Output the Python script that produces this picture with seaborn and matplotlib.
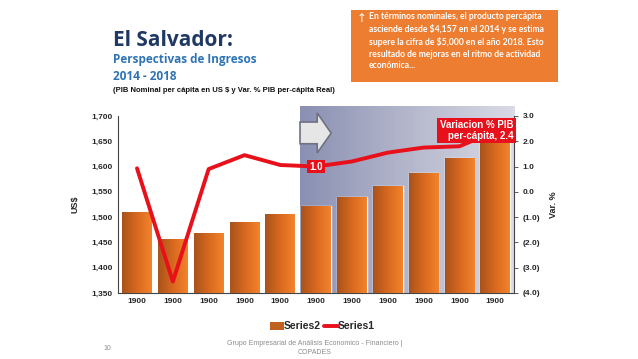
import numpy as np
import pandas as pd
import matplotlib
matplotlib.use("Agg")
import matplotlib.pyplot as plt
import seaborn as sns
from matplotlib.colors import LinearSegmentedColormap
from matplotlib.patches import Rectangle, Polygon

# Data
x_labels = ["1900"] * 11
pib_nominal = [1511, 1457, 1469, 1490, 1506, 1521, 1539, 1562, 1588, 1616, 1654]  # US$
var_pib = [0.93, -3.55, 0.9, 1.45, 1.06, 1.0, 1.2, 1.55, 1.75, 1.8, 2.4]  # Var. %
left_ticks = [1350, 1400, 1450, 1500, 1550, 1600, 1650, 1700]
right_ticks = [-4, -3, -2, -1, 0, 1, 2, 3]

df = pd.DataFrame({"pos": range(len(x_labels)), "pib": pib_nominal, "var": var_pib})

sns.set_theme(style="white")
plt.rcParams["font.family"] = ["Liberation Sans", "DejaVu Sans"]

fig = plt.figure(figsize=(6.38, 3.59), dpi=100)
ax = fig.add_axes([0.185, 0.184, 0.621, 0.493])
YMIN, YMAX = 1350, 1700
XMIN, XMAX = -0.53, 10.53

# bars
sns.barplot(data=df, x="pos", y="pib", color="#e87a2a", width=0.83, ax=ax, zorder=3)

# gradient fill on the bars (only the visible part above the axis floor)
bar_cmap = LinearSegmentedColormap.from_list("bar", ["#a9531c", "#d8691f", "#f3832c"])
grad = np.linspace(0, 1, 64).reshape(1, -1)
for p in ax.patches:
    x0, y0 = p.get_xy()
    top = y0 + p.get_height()
    im = ax.imshow(grad, cmap=bar_cmap, aspect="auto", zorder=3.5,
                   extent=[x0, x0 + p.get_width(), YMIN, top])
    im.set_clip_path(p)
    p.set_clip_on(True)

# shaded projection area
shade_cmap = LinearSegmentedColormap.from_list("shade", ["#8a90b2", "#b4b7cc", "#d9dae5"])
ax.imshow(grad, cmap=shade_cmap, aspect="auto", zorder=1, clip_on=False,
          extent=[4.55, XMAX, YMIN, 1718])

# arrow in the shaded area
arrow = Polygon([[4.55, 1688], [5.03, 1688], [5.03, 1706], [5.42, 1666],
                 [5.03, 1627], [5.03, 1645], [4.55, 1645]],
                closed=True, facecolor="#e6e6e6", edgecolor="#6f7283", lw=1.2,
                zorder=2, clip_on=False)
ax.add_patch(arrow)

ax.set_ylim(YMIN, YMAX)
ax.set_xlim(XMIN, XMAX)
ax.set_xticks(range(len(x_labels)))
ax.set_xticklabels(x_labels, fontsize=6, fontweight="bold")
ax.set_yticks(left_ticks)
ax.set_yticklabels([f"{v:,}" for v in left_ticks], fontsize=6, fontweight="bold")
ax.set_xlabel("")
ax.set_ylabel("US$", fontsize=6.5, fontweight="bold", labelpad=8)
for s in ["top", "right"]:
    ax.spines[s].set_visible(False)
for s in ["left", "bottom"]:
    ax.spines[s].set_color("#444444")
    ax.spines[s].set_linewidth(0.8)
ax.tick_params(axis="both", length=0, pad=4)

# line on secondary axis
ax2 = ax.twinx()
sns.lineplot(data=df, x="pos", y="var", color="#e8101a", linewidth=2.8, ax=ax2, zorder=5)
ax2.set_ylim(-4, 3)
ax2.set_xlim(XMIN, XMAX)
ax2.set_yticks(right_ticks)
ax2.set_yticklabels([f"{v:.1f}" if v >= 0 else f"({abs(v):.1f})" for v in right_ticks],
                    fontsize=6, fontweight="bold")
ax2.set_ylabel("Var. %", fontsize=6.5, fontweight="bold", rotation=90, labelpad=6)
ax2.yaxis.set_label_position("right")
for s in ["top", "left", "bottom"]:
    ax2.spines[s].set_visible(False)
ax2.spines["right"].set_color("#444444")
ax2.spines["right"].set_linewidth(0.8)
ax2.tick_params(axis="y", length=3, width=0.6, color="#444444", pad=3)
ax2.grid(False)
ax.grid(False)

# data labels
ax2.text(5, var_pib[5], f"{var_pib[5]:.1f}", color="white", fontsize=7, fontweight="bold",
         ha="center", va="center", zorder=6,
         bbox=dict(boxstyle="square,pad=0.2", fc="#e8101a", ec="none"))
ax2.text(10.5, 2.42, "Variacion % PIB\nper-cápita, 2.4", color="white", fontsize=7,
         fontweight="bold", ha="right", va="center", zorder=6, linespacing=1.1,
         bbox=dict(boxstyle="square,pad=0.25", fc="#e8101a", ec="none"))

# titles
fig.text(113 / 638, 1 - 40 / 359, "El Salvador:", fontsize=15, fontweight="bold",
         color="#1f3864", family=["Open Sans", "DejaVu Sans"], va="center")
fig.text(113 / 638, 1 - 60 / 359, "Perspectivas de Ingresos", fontsize=8.5,
         fontweight="bold", color="#2e74b5", family=["Open Sans", "DejaVu Sans"], va="center")
fig.text(113 / 638, 1 - 76 / 359, "2014 - 2018", fontsize=8.5, fontweight="bold",
         color="#2e74b5", family=["Open Sans", "DejaVu Sans"], va="center")
fig.text(113 / 638, 1 - 90 / 359,
         "(PIB Nominal per cápita en US $ y Var. % PIB per-cápita Real)",
         fontsize=5.5, fontweight="bold", color="#111111", va="center")

# orange note box
fig.patches.append(Rectangle((351 / 638, 1 - 82 / 359), 207 / 638, 72 / 359,
                             transform=fig.transFigure, fc="#ed7d31", ec="none"))
fig.text(357 / 638, 1 - 18 / 359, "↑", fontsize=8.5, color="white", va="center",
         family=["DejaVu Sans"])
fig.text(369 / 638, 1 - 12 / 359,
         "En términos nominales, el producto percápita\n"
         "asciende desde $4,157 en el 2014 y se estima\n"
         "supere la cifra de $5,000 en el año 2018. Esto\n"
         "resultado de mejoras en el ritmo de actividad\n"
         "económica...",
         fontsize=6.2, fontweight="bold", color="white", va="top", linespacing=1.38,
         family=["Lato", "DejaVu Sans"])

# legend
lx, ly = 270 / 638, 1 - 326 / 359
fig.patches.append(Rectangle((lx, ly - 4 / 359), 14 / 638, 8 / 359,
                             transform=fig.transFigure, fc="#c0621f", ec="none"))
fig.text(lx + 14 / 638, ly, "Series2", fontsize=7.5, fontweight="bold", va="center")
fig.lines.append(plt.Line2D([324 / 638, 338 / 638], [ly, ly], transform=fig.transFigure,
                            color="#e8101a", lw=2.8))
fig.text(338 / 638, ly, "Series1", fontsize=7.5, fontweight="bold", va="center")

# footer
fig.text(315 / 638, 1 - 348 / 359,
         "Grupo Empresarial de Análisis Economico - Financiero |\nCOPADES",
         fontsize=5, color="#8c8c8c", ha="center", va="center", linespacing=1.5)
fig.text(103 / 638, 1 - 348 / 359, "10", fontsize=5, color="#8c8c8c", va="center")

fig.savefig("out.png", dpi=100)
